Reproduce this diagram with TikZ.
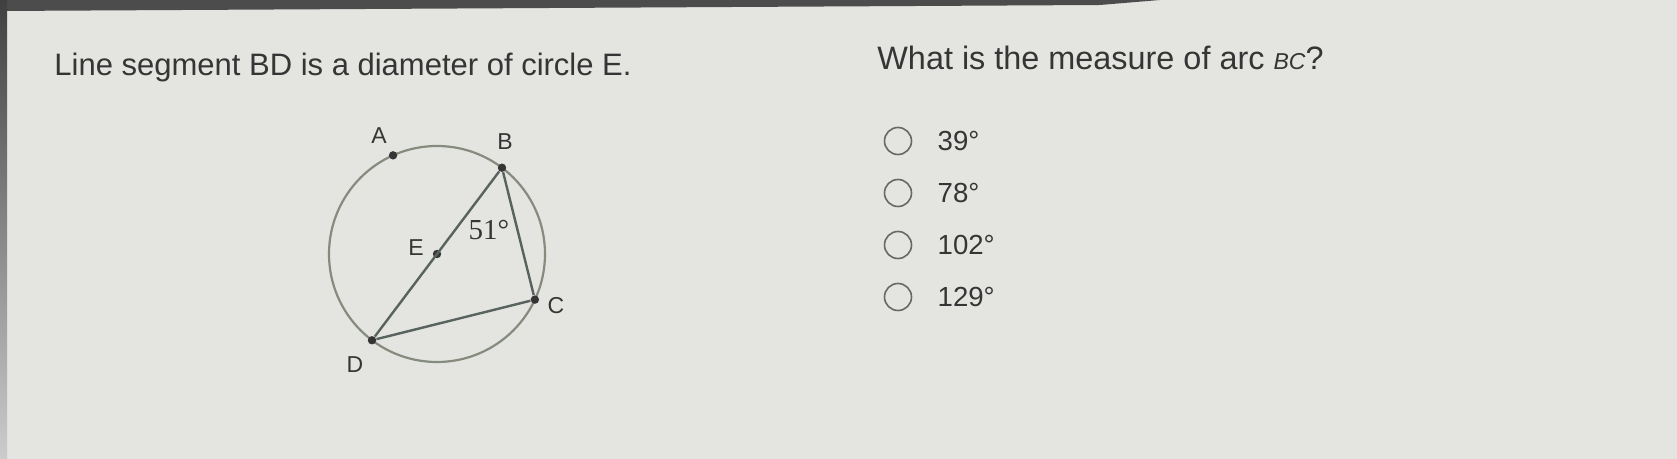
\documentclass[tikz,border=0pt]{standalone}
\usepackage{fontspec}
\setmainfont{Liberation Sans}
\newfontfamily\anglefont{Liberation Serif}
\usepackage{tikz}
\usetikzlibrary{positioning}

\definecolor{paper}{HTML}{E4E4E1}
\definecolor{ink}{HTML}{353535}
\definecolor{rim}{HTML}{858C7E}
\definecolor{chord}{HTML}{58635F}

\begin{document}
\begin{tikzpicture}[x=0.5pt,y=-0.5pt,
            dot/.style={shape=circle, inner sep=0pt, minimum size=4.2pt, fill=ink},
            lbl/.style={text=ink, inner sep=0pt, font=\fontsize{11.5}{11.5}\selectfont},
            opt/.style={shape=circle, draw=ink!75, line width=0.8pt, minimum size=13.5pt, inner sep=0pt},
            optlbl/.style={text=ink, inner sep=0pt, font=\fontsize{13.8}{13.8}\selectfont}]
        \useasboundingbox (0,0) rectangle (1677,459);
        \fill[paper] (0,0) rectangle (1677,459);
        % edge of the screen
        \fill[black!70] (0,0) -- (1160,0) -- (1100,5) -- (0,11) -- cycle;
        \shade[top color=black!75, bottom color=black!20] (0,0) rectangle (7,459);

        \node[anchor=base west, text=ink, inner sep=0pt, font=\fontsize{15.5}{15.5}\selectfont] (given) at (54,76) {Line segment BD is a diameter of circle E.};
        \node[anchor=base west, text=ink, inner sep=0pt, font=\fontsize{16.2}{16.2}\selectfont] (question) at (877,70) {What is the measure of arc {\itshape\fontsize{11.5}{11.5}\selectfont BC}?};

        \coordinate (E) at (437,254);
        \draw[rim, line width=1.1pt] (E) circle[radius=108];
        \path (E) ++(-114:108) coordinate (A);
        \path (E) ++(-53:108) coordinate (B);
        \path (E) ++(25:108) coordinate (C);
        \path (E) ++(127:108) coordinate (D);

        \node[dot] (a) at (A) {};
        \node[dot] (b) at (B) {};
        \node[dot] (c) at (C) {};
        \node[dot] (d) at (D) {};
        \node[dot] (e) at (E) {};

        \draw[chord, line width=1.2pt] (b) -- (d);
        \draw[chord, line width=1.2pt] (b) -- (c) -- (d);

        \node[lbl] (la) at (379,136) {A};
        \node[lbl] (lb) at (505,142) {B};
        \node[lbl] (lc) at (556,306) {C};
        \node[lbl] (ld) at (355,365) {D};
        \node[lbl] (le) at (416,248) {E};
        \node[text=ink, inner sep=0pt, font=\anglefont\fontsize{14.5}{14.5}\selectfont] (ang) at (489,230) {51°};

        \foreach \v [count=\i] in {39,78,102,129} {
            \node[opt] (opt\i) at (898,89+52*\i) {};
            \node[optlbl, right=12.5pt of opt\i] (val\i) {\v°};
        }
    \end{tikzpicture}
\end{document}
